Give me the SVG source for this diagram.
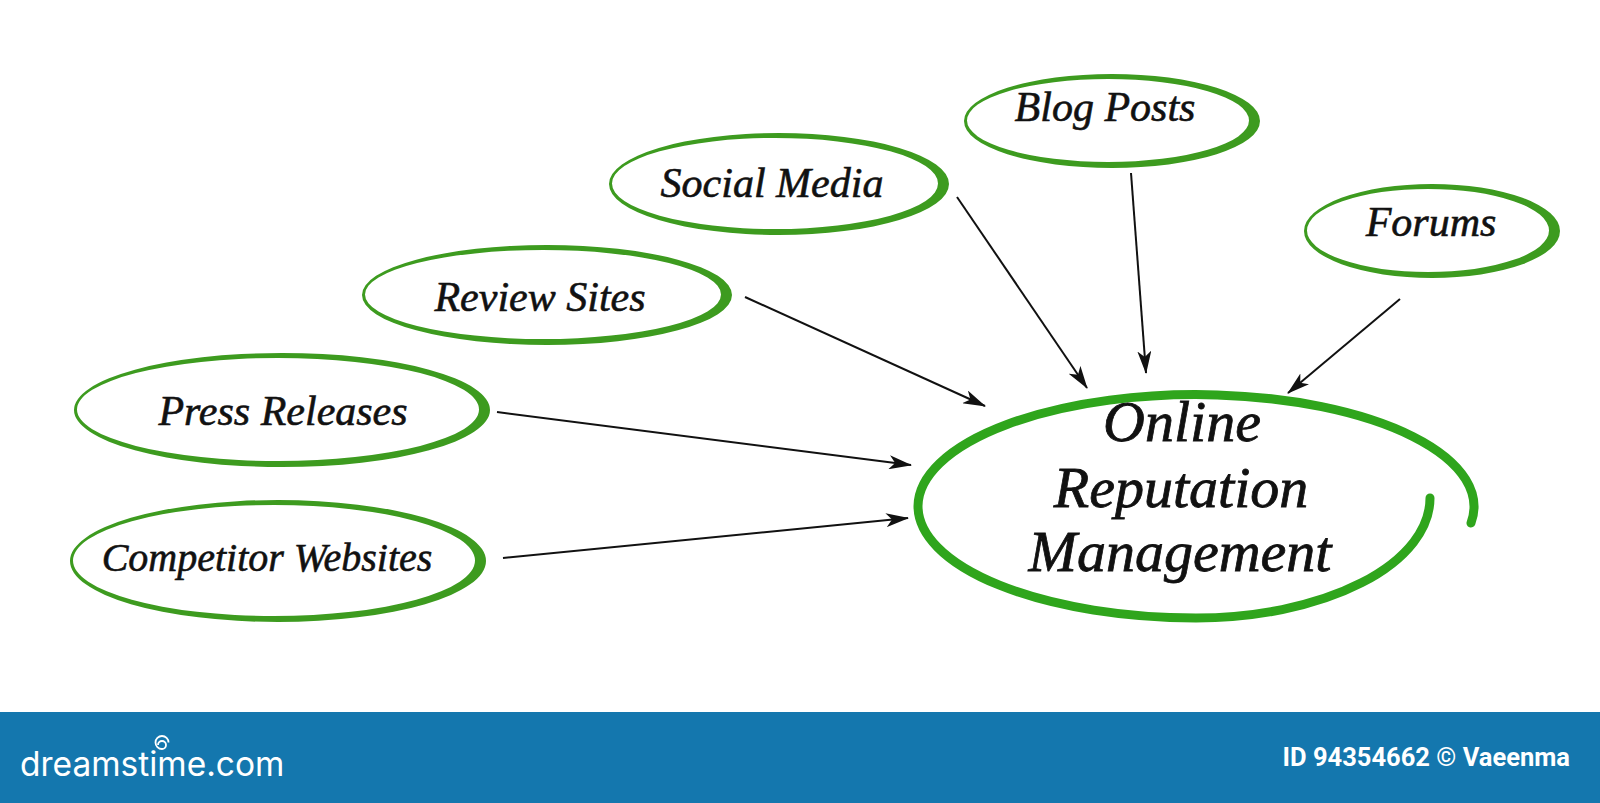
<svg xmlns="http://www.w3.org/2000/svg" width="1600" height="803" viewBox="0 0 1600 803">
<style>
.ring{fill:#3d9b1f;fill-rule:evenodd;}
.lbl{font-family:"Liberation Serif","Times New Roman",serif;font-style:italic;font-size:42px;fill:#111;stroke:#111;stroke-width:0.6;text-anchor:middle;}
.main{font-family:"Liberation Serif","Times New Roman",serif;font-style:italic;font-size:58px;fill:#111;stroke:#111;stroke-width:0.8;text-anchor:middle;}
.conn{stroke:#111;stroke-width:2;fill:none;marker-end:url(#ah);}
</style>
<defs>
<marker id="ah" markerUnits="userSpaceOnUse" markerWidth="24" markerHeight="14" refX="22" refY="7" orient="auto">
<path d="M0,0 L23,7 L0,14 L6,7 Z" fill="#111"/>
</marker>
</defs>
<rect width="1600" height="803" fill="#fff"/>

<g id="connectors">
<line class="conn" x1="745" y1="297" x2="985" y2="406"/>
<line class="conn" x1="497" y1="412" x2="911" y2="465"/>
<line class="conn" x1="503" y1="558" x2="908" y2="518"/>
<line class="conn" x1="957" y1="197" x2="1087" y2="388"/>
<line class="conn" x1="1131" y1="173" x2="1146" y2="373"/>
<line class="conn" x1="1400" y1="299" x2="1288" y2="393"/>
</g>

<g id="node-social-media">
<path class="ring" d="M609,184 a170,51 0 1,0 340,0 a170,51 0 1,0 -340,0 Z M612,183.5 a163,45.5 0 1,0 326,0 a163,45.5 0 1,0 -326,0 Z"/>
<text class="lbl" x="772" y="197">Social Media</text>
</g>

<g id="node-blog-posts">
<path class="ring" d="M964,121 a148,47 0 1,0 296,0 a148,47 0 1,0 -296,0 Z M967,120.5 a141,41.5 0 1,0 282,0 a141,41.5 0 1,0 -282,0 Z"/>
<text class="lbl" x="1105" y="121">Blog Posts</text>
</g>

<g id="node-forums">
<path class="ring" d="M1304,231 a128,47 0 1,0 256,0 a128,47 0 1,0 -256,0 Z M1307,230.5 a121,41.5 0 1,0 242,0 a121,41.5 0 1,0 -242,0 Z"/>
<text class="lbl" x="1431" y="236">Forums</text>
</g>

<g id="node-review-sites">
<path class="ring" d="M362,295 a185,50 0 1,0 370,0 a185,50 0 1,0 -370,0 Z M365,294.5 a178,44.5 0 1,0 356,0 a178,44.5 0 1,0 -356,0 Z"/>
<text class="lbl" x="540" y="311">Review Sites</text>
</g>

<g id="node-press-releases">
<path class="ring" d="M74,410 a208,57 0 1,0 416,0 a208,57 0 1,0 -416,0 Z M77,409.5 a201,51.5 0 1,0 402,0 a201,51.5 0 1,0 -402,0 Z"/>
<text class="lbl" x="283" y="425">Press Releases</text>
</g>

<g id="node-competitor-websites">
<path class="ring" d="M70,561 a208,61 0 1,0 416,0 a208,61 0 1,0 -416,0 Z M73,560.5 a201,55.5 0 1,0 402,0 a201,55.5 0 1,0 -402,0 Z"/>
<text class="lbl" x="267" y="571" style="font-size:40px">Competitor Websites</text>
</g>

<g id="node-online-reputation-management">
<path d="M1471,523 A278,112 0 1,0 918,506 A278,112 0 0,0 1196,618 A234,120 0 0,0 1430,498" fill="none" stroke="#2fa51c" stroke-width="9" stroke-linecap="round"/>
<text class="main" x="1182" y="441">Online</text>
<text class="main" x="1181" y="507">Reputation</text>
<text class="main" x="1180" y="571">Management</text>
</g>

<g id="banner">
<rect x="0" y="712" width="1600" height="91" fill="#1477ae"/>
<text x="20" y="776" font-family="Inter, 'Noto Sans', sans-serif" font-size="33.5" fill="#fff">dreamstime.com</text>
<path d="M162,745 m-4,0 a4,4 0 1,1 4,4 a6.5,6.5 0 1,1 6.5,-6.5" fill="none" stroke="#fff" stroke-width="1.8"/>
<text x="1570" y="766" font-family="Roboto, 'Noto Sans', sans-serif" font-weight="bold" font-size="25.5" fill="#fff" text-anchor="end">ID 94354662 © Vaeenma</text>
</g>
</svg>
